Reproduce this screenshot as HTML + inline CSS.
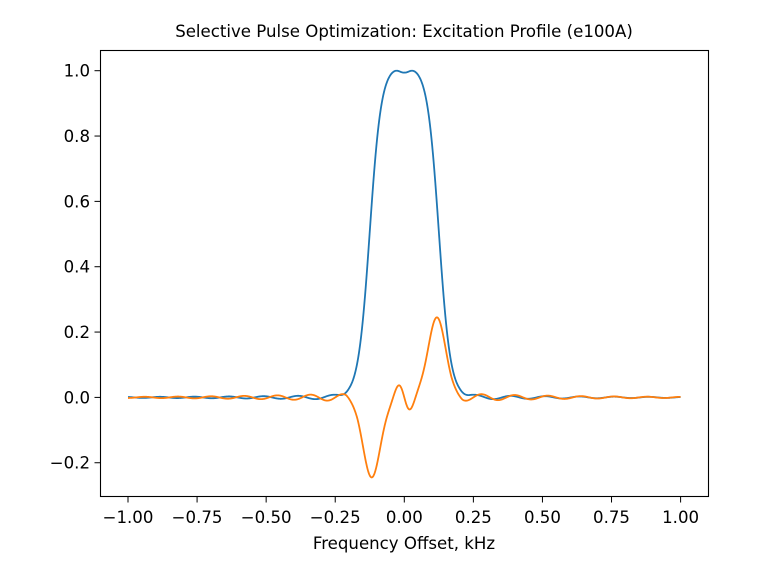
<!DOCTYPE html>
<html><head><meta charset="utf-8"><style>
body{margin:0;background:#fff}
svg text{font-family:"DejaVu Sans","Liberation Sans",sans-serif;fill:#000}
</style></head><body>
<svg id="s" width="768" height="576" xmlns="http://www.w3.org/2000/svg">
<rect width="768" height="576" fill="#fff"/>
<text x="404" y="37" font-size="16.6" text-anchor="middle">Selective Pulse Optimization: Excitation Profile (e100A)</text>
<g id="ticks" font-size="16.6"></g>
<polyline id="b" fill="none" stroke="#1f77b4" stroke-width="1.8"/>
<polyline id="o" fill="none" stroke="#ff7f0e" stroke-width="1.8"/>
<rect x="100.5" y="50.5" width="608" height="446" fill="none" stroke="#000" stroke-width="1.1"/>
<text x="404" y="549" font-size="16.6" text-anchor="middle">Frequency Offset, kHz</text>
</svg>
<script>
var X=function(x){return 404.3+276.3*x},Y=function(y){return 397.4-326.7*y};
var g=document.getElementById('ticks'),h='';
[-1,-0.75,-0.5,-0.25,0,0.25,0.5,0.75,1].forEach(function(v){var px=X(v);
h+='<line x1="'+px+'" x2="'+px+'" y1="497" y2="502.5" stroke="#000" stroke-width="1"/>';
h+='<text x="'+px+'" y="523" text-anchor="middle">'+(v<0?'\u2212':'')+Math.abs(v).toFixed(2)+'</text>';});
[-0.2,0,0.2,0.4,0.6,0.8,1].forEach(function(v){var py=Y(v);
h+='<line x1="94.5" x2="100" y1="'+py+'" y2="'+py+'" stroke="#000" stroke-width="1"/>';
h+='<text x="90" y="'+(py+6)+'" text-anchor="end">'+(v<0?'\u2212':'')+Math.abs(v).toFixed(1)+'</text>';});
g.innerHTML=h;
var pb=[],po=[];
for(var i=0;i<=2000;i++){var x=-1+i/1000,a=Math.abs(x);
var b=1/(1+Math.exp((a-0.125)/0.021));
b=b*1.015-0.018*Math.exp(-Math.pow(x/0.025,2));
if(a>0.2)b+=0.007*Math.cos(2*Math.PI*(a-0.26)/0.125)*Math.exp(-(a-0.2)/0.5)*Math.min(1,(a-0.2)/0.04);
var o=-0.245*Math.exp(-Math.pow((x+0.118)/0.045,2))+0.245*Math.exp(-Math.pow((x-0.118)/0.045,2));
o+=-0.05*Math.sin(Math.PI*x/0.05)*Math.exp(-Math.pow(x/0.045,2));
if(a>0.17){var t=Math.min(1,(a-0.17)/0.04);o+=Math.sign(x)*-0.012*Math.cos(2*Math.PI*(a-0.22)/0.12)*Math.exp(-(a-0.2)/0.4)*t;}
pb.push(X(x).toFixed(2)+','+Y(b).toFixed(2));po.push(X(x).toFixed(2)+','+Y(o).toFixed(2));}
document.getElementById('b').setAttribute('points',pb.join(' '));
document.getElementById('o').setAttribute('points',po.join(' '));
</script>
</body></html>
